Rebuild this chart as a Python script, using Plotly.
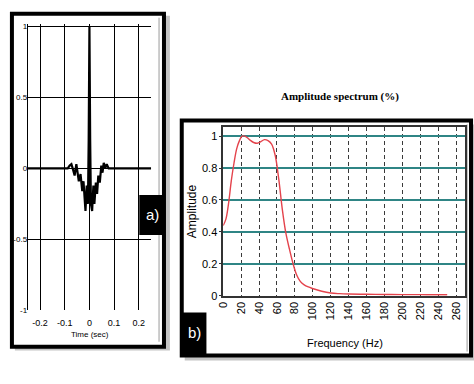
import plotly.graph_objects as go

W, H = 474, 384

# ---- data: wavelet (panel a) ----
time_s = [-0.25, -0.088, -0.08, -0.073, -0.066, -0.06, -0.053, -0.048, -0.043, -0.036,
          -0.029, -0.024, -0.016, -0.011, -0.006, -0.003, 0.0, 0.003, 0.006, 0.011,
          0.016, 0.020, 0.026, 0.031, 0.036, 0.042, 0.048, 0.053, 0.058, 0.064,
          0.070, 0.078, 0.088, 0.25]
wavelet = [0.0, 0.0, 0.02, 0.03, -0.01, -0.05, 0.03, -0.02, -0.09, -0.04,
           -0.16, -0.09, -0.30, -0.12, -0.25, 0.2, 1.0, 0.2, -0.25, -0.30,
           -0.12, -0.25, -0.10, -0.18, -0.05, -0.10, 0.02, -0.03, 0.04, 0.0,
           0.03, 0.0, 0.0, 0.0]
time_ticks = [-0.2, -0.1, 0, 0.1, 0.2]
time_tick_text = ["-0.2", "-0.1", "0", "0.1", "0.2"]
wav_ticks = [-1, -0.5, 0, 0.5, 1]
wav_tick_text = ["-1", "-0.5", "0", "0.5", "1"]

# ---- data: amplitude spectrum (panel b) ----
freq_hz = [0, 3, 6, 9, 12, 15, 18, 21, 24, 27, 30, 34, 38, 42, 46, 50, 54, 58, 62, 66,
           70, 74, 78, 82, 86, 90, 95, 100, 110, 120, 130, 140, 160, 180, 200, 220, 240, 250]
amplitude = [0.44, 0.48, 0.58, 0.72, 0.83, 0.92, 0.97, 1.0, 1.0, 0.99, 0.975, 0.96, 0.955,
             0.965, 0.978, 0.972, 0.95, 0.88, 0.73, 0.54, 0.39, 0.29, 0.20, 0.13, 0.09,
             0.07, 0.055, 0.045, 0.028, 0.017, 0.013, 0.011, 0.009, 0.008, 0.007, 0.007,
             0.006, 0.006]
freq_ticks = list(range(0, 261, 20))
amp_ticks = [0, 0.2, 0.4, 0.6, 0.8, 1]
amp_tick_text = ["0", "0.2", "0.4", "0.6", "0.8", "1"]


def X(px):
    return px / W


def Y(py):
    return 1 - py / H


SANS = "Liberation Sans, Arial, sans-serif"
TEAL = "#2f8585"

fig = go.Figure()
fig.add_trace(go.Scatter(x=time_s, y=wavelet, mode="lines",
                         line=dict(color="black", width=2.2), xaxis="x", yaxis="y",
                         showlegend=False, hoverinfo="skip"))
fig.add_trace(go.Scatter(x=freq_hz, y=amplitude, mode="lines", line_shape="spline",
                         line=dict(color="#e4434c", width=1.4), xaxis="x2", yaxis="y2",
                         showlegend=False, hoverinfo="skip"))

shapes = []
# shadows
shapes.append(dict(type="rect", xref="paper", yref="paper", x0=X(9), x1=X(166), y0=Y(356), y1=Y(14),
                   fillcolor="#c4c4c4", line=dict(width=0), layer="below"))
shapes.append(dict(type="rect", xref="paper", yref="paper", x0=X(181), x1=X(474), y0=Y(366), y1=Y(125),
                   fillcolor="#c4c4c4", line=dict(width=0), layer="below"))
# frames
shapes.append(dict(type="rect", xref="paper", yref="paper", x0=X(6), x1=X(160), y0=Y(352), y1=Y(12),
                   fillcolor="white", line=dict(color="black", width=4), layer="below"))
shapes.append(dict(type="rect", xref="paper", yref="paper", x0=X(178), x1=X(471), y0=Y(361), y1=Y(121),
                   fillcolor="white", line=dict(color="black", width=4), layer="below"))
# inner grey lines
shapes.append(dict(type="line", xref="paper", yref="paper", x0=X(155), x1=X(155), y0=Y(347), y1=Y(16),
                   line=dict(color="#9a9a9a", width=1), layer="below"))
shapes.append(dict(type="line", xref="paper", yref="paper", x0=X(467), x1=X(467), y0=Y(357), y1=Y(125),
                   line=dict(color="#9a9a9a", width=1), layer="below"))
# label boxes
shapes.append(dict(type="rect", xref="paper", yref="paper", x0=X(135), x1=X(160), y0=Y(238), y1=Y(197),
                   fillcolor="black", line=dict(width=0), layer="above"))
shapes.append(dict(type="rect", xref="paper", yref="paper", x0=X(178), x1=X(203), y0=Y(361), y1=Y(317),
                   fillcolor="black", line=dict(width=0), layer="above"))


def label(text, px, py, size, color="black", family=SANS, angle=0):
    return dict(text=text, x=X(px), y=Y(py), xref="paper", yref="paper", showarrow=False,
                xanchor="center", yanchor="middle", textangle=angle,
                font=dict(family=family, size=size, color=color))


annotations = [
    label("a)", 148, 217, 15, "white"),
    label("b)", 191, 338, 15, "white"),
    label("<b>Amplitude spectrum (%)</b>", 338, 97, 11, family="Liberation Serif, serif"),
    label("Frequency (Hz)", 343, 348, 11),
    label("Amplitude", 188, 214, 12, angle=-90),
    label("Time (sec)", 85, 340, 8),
]

fig.update_layout(
    width=W, height=H, margin=dict(l=0, r=0, t=0, b=0),
    paper_bgcolor="white", plot_bgcolor="rgba(0,0,0,0)",
    shapes=shapes, annotations=annotations,
    xaxis=dict(domain=[X(22), X(147)], range=[-0.25, 0.25], tickvals=time_ticks,
               ticktext=time_tick_text, showgrid=True, gridcolor="black", gridwidth=1,
               zeroline=False, showline=False, ticks="outside", ticklen=4,
               tickcolor="rgba(0,0,0,0)", anchor="y",
               tickfont=dict(family=SANS, size=9, color="black")),
    yaxis=dict(domain=[Y(315), Y(22.8)], range=[-1, 1.015], tickvals=wav_ticks,
               ticktext=wav_tick_text, showgrid=True, gridcolor="black", gridwidth=1,
               zeroline=False, showline=True, linecolor="black", linewidth=1, ticks="",
               ticklabelstandoff=-2,
               anchor="x", tickfont=dict(family=SANS, size=8, color="black")),
    xaxis2=dict(domain=[X(220), X(465)], range=[0, 270], tickvals=freq_ticks,
                tickangle=-90, showgrid=True, gridcolor="#3a3a3a", gridwidth=1, griddash="4px,3px",
                zeroline=False, showline=True, mirror=True, linecolor="#333", linewidth=1.5,
                ticks="", anchor="y2",
                tickfont=dict(family=SANS, size=11, color="black")),
    yaxis2=dict(domain=[Y(300), Y(128)], range=[0, 1.055], tickvals=amp_ticks,
                ticktext=amp_tick_text, showgrid=True, gridcolor=TEAL, gridwidth=1.5,
                zeroline=False, showline=True, mirror=True, linecolor="#333", linewidth=1.5,
                ticks="outside", ticklen=2, tickcolor="#333", anchor="x2",
                tickfont=dict(family=SANS, size=11, color="black")),
)

fig.write_html("out.html", config={"displayModeBar": False},
               post_script="document.body.style.margin='0';")
